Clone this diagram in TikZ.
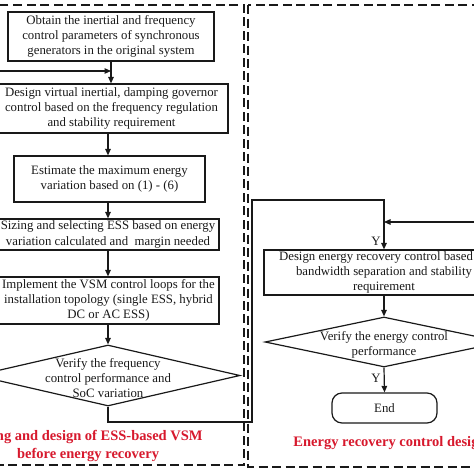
\documentclass[tikz,border=0pt]{standalone}
\usepackage{fontspec}
\setmainfont{Liberation Serif}
\usetikzlibrary{arrows.meta,shapes.geometric}
\definecolor{titlered}{RGB}{215,25,45}
\definecolor{ink}{RGB}{25,25,25}
\begin{document}
\begin{tikzpicture}[x=1pt,y=-1pt,
  stepbox/.style={draw=ink, line width=1.2pt, inner sep=0pt, align=center,
    font=\fontsize{12.8}{15.3}\selectfont, text=ink},
  dec/.style={draw=ink, line width=1.2pt, shape=diamond, inner sep=0pt},
  endbox/.style={stepbox, rounded corners=10pt},
  lbl/.style={inner sep=0pt, align=center, font=\fontsize{12.8}{15.3}\selectfont, text=ink},
  conn/.style={draw=ink, line width=1.2pt},
  arr/.style={conn, -{Triangle[length=6.5pt,width=5.5pt]}},
  frame/.style={draw=ink, line width=1.3pt, dash pattern=on 9pt off 4.5pt},
  ttl/.style={text=titlered, font=\bfseries\fontsize{14.5}{18}\selectfont, align=center, inner sep=0pt}
]
\path[use as bounding box, clip] (0,0) rectangle (474,474);
\fill[white] (0,0) rectangle (474,474);

% frames
\draw[frame] (-45,5) rectangle (244,465);
\draw[frame] (248,5) rectangle (530,467);

% left column
\node[stepbox, minimum width=206pt, minimum height=49pt] (b1) at (111,36.5)
  {Obtain the inertial and frequency\\control parameters of synchronous\\generators in the original system};
\node[stepbox, minimum width=233pt, minimum height=49pt] (b2) at (111.5,108.5)
  {Design virtual inertial, damping governor\\control based on the frequency regulation\\and stability requirement};
\node[stepbox, minimum width=191pt, minimum height=46pt] (b3) at (109.5,179)
  {Estimate the maximum energy\\variation based on (1) - (6)};
\node[stepbox, minimum width=222pt, minimum height=31pt] (b4) at (108,234.5)
  {Sizing and selecting ESS based on energy\\variation calculated and\ \ margin needed};
\node[stepbox, minimum width=221pt, minimum height=47pt] (b5) at (108.5,300.5)
  {Implement the VSM control loops for the\\installation topology (single ESS, hybrid\\DC or AC ESS)};
\node[dec, minimum width=264pt, minimum height=61pt] (d1) at (108,375.5) {};
\node[lbl] (d1t) at (108,378) {Verify the frequency\\control performance and\\SoC variation};

% right column
\node[stepbox, minimum width=240pt, minimum height=45pt] (b6) at (384,272.5)
  {Design energy recovery control based on\\bandwidth separation and stability\\requirement};
\node[dec, minimum width=238pt, minimum height=50pt] (d2) at (384,342) {};
\node[lbl] (d2t) at (384,345) {Verify the energy control\\performance};
\node[endbox, minimum width=105pt, minimum height=30pt] (e) at (384.5,408) {End};

% helper coordinates
\coordinate (j1) at (111,71);
\coordinate (l1) at (-40,0);
\coordinate (c1) at (252,422);
\coordinate (c2) at (252,200);
\coordinate (r1) at (525,0);
\coordinate (j2) at (384,222);

% connectors
\draw[arr] (b1.south) -- (b1.south |- b2.north);
\draw[arr] (b2.south -| d1) -- (b3.north -| d1);
\draw[arr] (b3.south -| d1) -- (b4.north -| d1);
\draw[arr] (b4.south -| d1) -- (b5.north -| d1);
\draw[arr] (b5.south -| d1) -- (d1.north);
\draw[arr] (d1.west) -- (d1.west -| l1) |- (j1);
\draw[arr] (d1.south) |- (c1) -- (c2) -| (b6.north);
\draw[arr] (d2.east) -- (d2.east -| r1) |- (j2);
\draw[arr] (b6.south) -- (d2.north);
\draw[arr] (d2.south) -- (e.north);

\node[lbl] (y1) at (376,241) {Y};
\node[lbl] (y2) at (376,378) {Y};

% titles
\node[ttl] (t1) at (88,446) {Sizing and design of ESS-based VSM\\before energy recovery};
\node[ttl] (t2) at (390,443) {Energy recovery control design};
\end{tikzpicture}
\end{document}
